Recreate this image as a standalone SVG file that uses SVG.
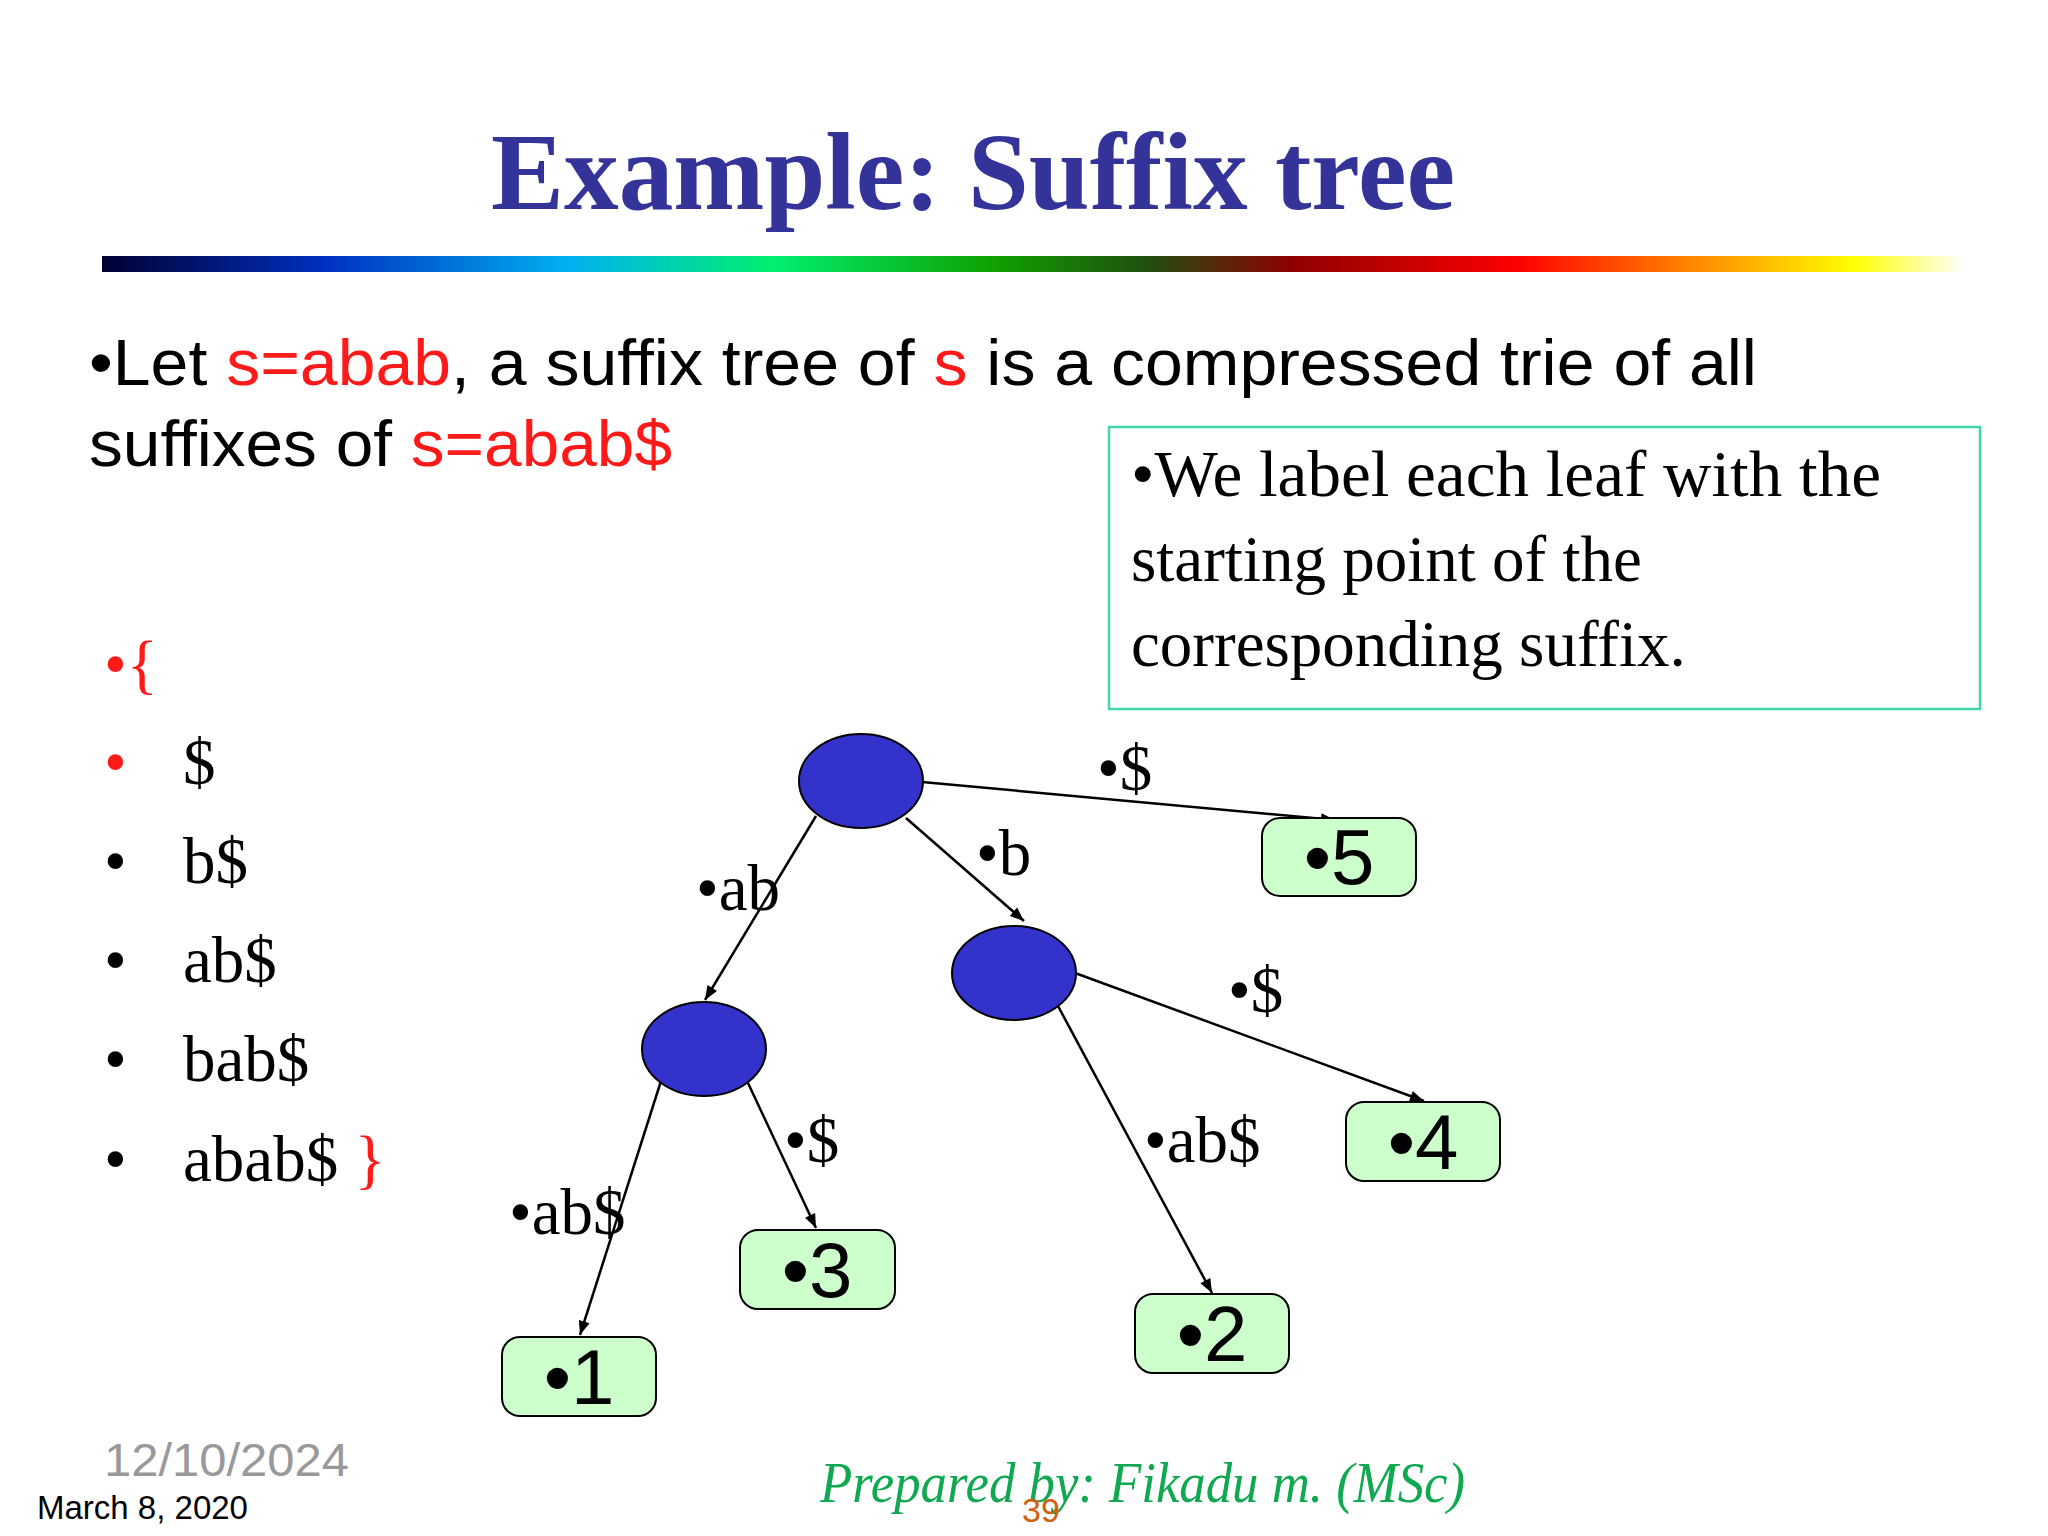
<svg xmlns="http://www.w3.org/2000/svg" width="2048" height="1536" viewBox="0 0 2048 1536">
<defs>
<linearGradient id="bar" x1="0" x2="1" y1="0" y2="0">
<stop offset="0" stop-color="#000033"/>
<stop offset="0.12" stop-color="#0030c0"/>
<stop offset="0.25" stop-color="#00b0f0"/>
<stop offset="0.36" stop-color="#00f070"/>
<stop offset="0.48" stop-color="#10a000"/>
<stop offset="0.56" stop-color="#205010"/>
<stop offset="0.64" stop-color="#900000"/>
<stop offset="0.76" stop-color="#ff0000"/>
<stop offset="0.86" stop-color="#ff9000"/>
<stop offset="0.94" stop-color="#ffff00"/>
<stop offset="1" stop-color="#ffffff"/>
</linearGradient>
<marker id="arr" viewBox="0 0 10 10" refX="10" refY="5" markerWidth="17" markerHeight="14" orient="auto" markerUnits="userSpaceOnUse">
<path d="M0,1 L10,5 L0,9 z" fill="#000"/>
</marker>
</defs>
<style>
.t{font-family:"Liberation Serif","Times New Roman",serif;font-size:65px;fill:#000}
.a{font-family:"Liberation Sans",Arial,sans-serif;font-size:65px;fill:#000}
.r{fill:#ff1a1a}
.inner ellipse{fill:#3333cc;stroke:#000;stroke-width:2}
.leaf rect{fill:#ccffcc;stroke:#000;stroke-width:2}
.leaf text{font-family:"Liberation Sans",Arial,sans-serif;font-size:78px;text-anchor:middle;fill:#000}
.edges line{stroke:#000;stroke-width:2.5;marker-end:url(#arr)}
</style>
<rect width="2048" height="1536" fill="#fff"/>
<text x="973" y="209" text-anchor="middle" font-family="Liberation Serif,serif" font-weight="bold" font-size="110" fill="#333399" textLength="964" lengthAdjust="spacingAndGlyphs">Example: Suffix tree</text>
<rect x="102" y="256" width="1863" height="16" fill="url(#bar)"/>
<text class="a" x="89" y="385" textLength="1668" lengthAdjust="spacingAndGlyphs">•Let <tspan class="r">s=abab</tspan>, a suffix tree of <tspan class="r">s</tspan> is a compressed trie of all</text>
<text class="a" x="89" y="466" textLength="583" lengthAdjust="spacingAndGlyphs">suffixes of <tspan class="r">s=abab$</tspan></text>
<g id="note">
<rect x="1109" y="427" width="871" height="282" fill="none" stroke="#40d8a8" stroke-width="2.5"/>
<text class="t" x="1131" y="496" textLength="750" lengthAdjust="spacingAndGlyphs">•We label each leaf with the</text>
<text class="t" x="1131" y="581">starting point of the</text>
<text class="t" x="1131" y="666">corresponding suffix.</text>
</g>
<g id="list">
<text class="t r" x="104" y="686">•{</text>
<text class="t r" x="104" y="784">•</text><text class="t" x="183" y="784">$</text>
<text class="t" x="104" y="883">•</text><text class="t" x="183" y="883">b$</text>
<text class="t" x="104" y="982">•</text><text class="t" x="183" y="982">ab$</text>
<text class="t" x="104" y="1081">•</text><text class="t" x="183" y="1081">bab$</text>
<text class="t" x="104" y="1181">•</text><text class="t" x="183" y="1181">abab$ <tspan class="r">}</tspan></text>
</g>
<g class="edges" id="connectors">
<line x1="922" y1="782" x2="1335" y2="820"/>
<line x1="906" y1="818" x2="1024" y2="921"/>
<line x1="816" y1="816" x2="705" y2="1000"/>
<line x1="661" y1="1081" x2="580" y2="1335"/>
<line x1="748" y1="1083" x2="816" y2="1228"/>
<line x1="1058" y1="1006" x2="1212" y2="1293"/>
<line x1="1075" y1="973" x2="1424" y2="1101"/>
</g>
<g id="labels">
<text class="t" x="1097" y="790">•$</text>
<text class="t" x="976" y="875">•b</text>
<text class="t" x="696" y="910">•ab</text>
<text class="t" x="1228" y="1012">•$</text>
<text class="t" x="784" y="1162">•$</text>
<text class="t" x="1144" y="1162">•ab$</text>
<text class="t" x="509" y="1234">•ab$</text>
</g>
<g class="inner" id="root"><ellipse cx="861" cy="781" rx="62" ry="47"/></g>
<g class="inner" id="nb"><ellipse cx="1014" cy="973" rx="62" ry="47"/></g>
<g class="inner" id="nab"><ellipse cx="704" cy="1049" rx="62" ry="47"/></g>
<g class="leaf" id="leaf5"><rect x="1262" y="818" width="154" height="78" rx="18"/><text x="1339" y="884">•5</text></g>
<g class="leaf" id="leaf4"><rect x="1346" y="1102" width="154" height="79" rx="18"/><text x="1423" y="1169">•4</text></g>
<g class="leaf" id="leaf2"><rect x="1135" y="1294" width="154" height="79" rx="18"/><text x="1212" y="1361">•2</text></g>
<g class="leaf" id="leaf3"><rect x="740" y="1230" width="155" height="79" rx="18"/><text x="817" y="1297">•3</text></g>
<g class="leaf" id="leaf1"><rect x="502" y="1337" width="154" height="79" rx="18"/><text x="579" y="1404">•1</text></g>
<text x="104" y="1476" font-family="Liberation Sans,sans-serif" font-size="46" fill="#999" textLength="245" lengthAdjust="spacingAndGlyphs">12/10/2024</text>
<text x="37" y="1519" font-family="Liberation Sans,sans-serif" font-size="33" fill="#000">March 8, 2020</text>
<text x="820" y="1502" font-family="Liberation Serif,serif" font-style="italic" font-size="56" fill="#10a850" textLength="645" lengthAdjust="spacingAndGlyphs">Prepared by: Fikadu m. (MSc)</text>
<text x="1041" y="1522" font-family="Liberation Sans,sans-serif" font-size="34" fill="#d06010" text-anchor="middle">39</text>
</svg>
